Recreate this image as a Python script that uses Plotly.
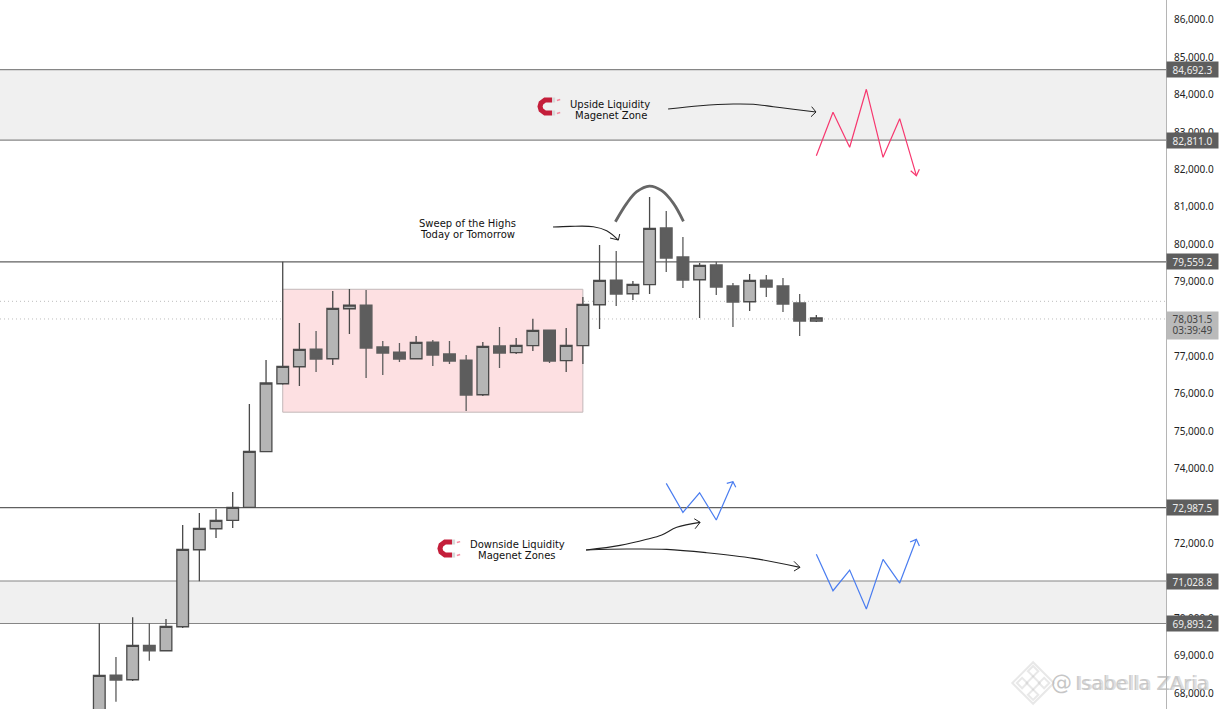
import plotly.graph_objects as go

# candles
opens = [67180, 68516, 68391, 69310, 69166, 69807, 71865, 72426, 72651, 72998, 74484, 76301, 76755, 77228, 76969,
         78305, 78404, 77282, 77148, 76969, 77415, 77095, 76934, 76007, 77309, 77130, 77317, 77736, 76916, 77317,
         78412, 79072, 78706, 78947, 80462, 79687, 79080, 79473, 78912, 78492, 79072, 78912, 78458, 77977]
highs = [69898, 68997, 70059, 69898, 70013, 72525, 72846, 72953, 73407, 75759, 76934, 79559, 77923, 77709, 78778,
         78832, 78805, 77442, 77389, 77576, 77469, 77442, 77068, 77415, 77816, 77522, 78038, 77736, 77790, 78618,
         80008, 79847, 79046, 81290, 80916, 80221, 79527, 79561, 78992, 79233, 79206, 79126, 78698, 78137]
lows = [66913, 67803, 68356, 68899, 69166, 69772, 71020, 72177, 72445, 72998, 74484, 76274, 76240, 76614, 76801,
        77629, 76453, 76533, 76881, 76969, 76774, 76827, 75571, 75972, 76721, 77095, 77175, 76854, 76614, 76827,
        77763, 78377, 78538, 78698, 79286, 78859, 78057, 78671, 77816, 78244, 78618, 78217, 77576, 77950]
closes = [68508, 68383, 69310, 69166, 69818, 71875, 72437, 72651, 72998, 74494, 76320, 76766, 77220, 76961, 78316,
          78404, 77255, 77121, 76961, 77407, 77068, 76908, 75999, 77300, 77121, 77327, 77728, 76908, 77327, 78423,
          79064, 78698, 78957, 80454, 79660, 79072, 79465, 78885, 78484, 79064, 78885, 78431, 77977, 78057]

tick_vals = list(range(68000, 87000, 1000))
zones = [(82811.0, 84692.3), (69893.2, 71028.8)]
single_levels = [79559.2, 72987.5]
level_tags = [84692.3, 82811.0, 79559.2, 72987.5, 71028.8, 69893.2]
dotted_levels = [78503, 78031.5]
last_price = 78031.5
countdown = "03:39:49"

range_box_x = [11, 29]
range_box_y = [75540, 78825]

# drawings
pink_x = [43, 44, 45, 46, 47, 48, 49]
pink_y = [82394, 83554, 82619, 84169, 82351, 83383, 81860]
pink_head_x = [48.66, 49, 49.18]
pink_head_y = [81993, 81860, 82031]

blue1_x = [34, 35, 36, 37, 38]
blue1_y = [73639, 72864, 73388, 72659, 73682]
blue1_head_x = [37.63, 38, 38.17]
blue1_head_y = [73639, 73682, 73532]

blue2_x = [43, 44, 45, 46, 47, 48, 49]
blue2_y = [71742, 70769, 71322, 70280, 71608, 70975, 72143]
blue2_head_x = [48.62, 49, 49.18]
blue2_head_y = [72071, 72143, 71964]

up_arrow_x = [34.11, 36.03, 38.02, 39.22, 40.42, 41.62, 42.98]
up_arrow_y = [83642, 83730, 83776, 83768, 83704, 83634, 83562]
up_head_x = [42.72, 42.98, 42.68]
up_head_y = [83704, 83562, 83436]

sweep_x = [27.21, 28.23, 29.63, 30.43, 31.13]
sweep_y = [80489, 80507, 80497, 80390, 80141]
sweep_head_x = [30.63, 31.13, 31.21]
sweep_head_y = [80195, 80141, 80302]

hump_x = [30.95, 31.63, 32.23, 32.99, 33.73, 34.43, 35.03]
hump_y = [80630, 81122, 81432, 81584, 81459, 81122, 80641]

down1_x = [29.19, 31.23, 32.83, 33.73, 34.63, 36.03]
down1_y = [71857, 71982, 72143, 72258, 72463, 72597]
down1_head_x = [35.68, 36.03, 35.73]
down1_head_y = [72693, 72597, 72426]

down2_x = [29.19, 31.63, 34.03, 36.43, 39.22, 42.02]
down2_y = [71857, 71884, 71875, 71785, 71635, 71394]
down2_head_x = [41.66, 42.02, 41.66]
down2_head_y = [71555, 71394, 71296]

# magnet icon, offsets from an anchor
magnet_anchors = [(26.79, 83709), (20.79, 71897)]
magnet_dx = [0.36, -0.06, -0.30, -0.36, -0.30, -0.06, 0.36]
magnet_dy = [174, 174, 94, 0, -94, -174, -174]

FONT = "Noto Sans"
LABEL_FONT = "DejaVu Sans"
labels = [("Upside Liquidity", 30.6, 83776), ("Magenet Zone", 30.66, 83482),
          ("Sweep of the Highs", 22.08, 80590), ("Today or Tomorrow", 22.08, 80300),
          ("Downside Liquidity", 25.07, 72005), ("Magenet Zones", 25.07, 71720)]

fig = go.Figure()

fig.add_trace(go.Candlestick(
    x=list(range(len(opens))), open=opens, high=highs, low=lows, close=closes,
    increasing=dict(line=dict(color="#4a4a4a", width=1.3), fillcolor="#b5b5b5"),
    decreasing=dict(line=dict(color="#5d5d5d", width=1.3), fillcolor="#5d5d5d"),
    whiskerwidth=0, hoverinfo="skip"))


def add_path(xs, ys, color, width, shape="linear"):
    fig.add_trace(go.Scatter(x=xs, y=ys, mode="lines", hoverinfo="skip",
                             line=dict(color=color, width=width, shape=shape)))


add_path(pink_x, pink_y, "#f7386f", 1.2)
add_path(pink_head_x, pink_head_y, "#f7386f", 1.2)
add_path(blue1_x, blue1_y, "#4a7df0", 1.2)
add_path(blue1_head_x, blue1_head_y, "#4a7df0", 1.2)
add_path(blue2_x, blue2_y, "#4a7df0", 1.2)
add_path(blue2_head_x, blue2_head_y, "#4a7df0", 1.2)
for xs, ys, hx, hy in [(up_arrow_x, up_arrow_y, up_head_x, up_head_y),
                       (sweep_x, sweep_y, sweep_head_x, sweep_head_y),
                       (down1_x, down1_y, down1_head_x, down1_head_y),
                       (down2_x, down2_y, down2_head_x, down2_head_y)]:
    add_path(xs, ys, "#222222", 1.1, "spline")
    add_path(hx, hy, "#222222", 1.0)
add_path(hump_x, hump_y, "#666666", 2.8, "spline")

for ax, ay in magnet_anchors:
    add_path([ax + d for d in magnet_dx], [ay + d for d in magnet_dy], "#c41e3a", 5)
    add_path([ax + 0.36, ax + 0.55], [ay + 174, ay + 174], "#d8d8d8", 5)
    add_path([ax + 0.36, ax + 0.55], [ay - 174, ay - 174], "#d8d8d8", 5)
    add_path([ax + 0.65, ax + 0.85], [ay + 160, ay + 185], "#f58aa0", 1.5)
    add_path([ax + 0.65, ax + 0.85], [ay - 185, ay - 160], "#f58aa0", 1.5)

# watermark logo
fig.add_trace(go.Scatter(x=[56.0, 55.34, 56.66, 56.0, 56.0, 56.0], y=[68303, 68303, 68303, 68620, 67990, 68303],
                         mode="markers", hoverinfo="skip",
                         marker=dict(symbol="diamond-open", color="rgba(190,190,190,0.5)",
                                     size=[10, 8, 8, 8, 8, 32], line=dict(width=2))))

# zones and level lines
for lo, hi in zones:
    fig.add_shape(type="rect", xref="paper", x0=0, x1=1, y0=lo, y1=hi, layer="below",
                  fillcolor="#f0f0f0", line_width=0)
    for lv in (lo, hi):
        fig.add_shape(type="line", xref="paper", x0=0, x1=1, y0=lv, y1=lv, layer="below",
                      line=dict(color="#868686", width=1.2))
for lv in single_levels:
    fig.add_shape(type="line", xref="paper", x0=0, x1=1, y0=lv, y1=lv, layer="below",
                  line=dict(color="#606060", width=1.2))
fig.add_shape(type="rect", x0=range_box_x[0], x1=range_box_x[1], y0=range_box_y[0], y1=range_box_y[1],
              layer="below", fillcolor="#fde0e2", line=dict(color="#c2b8b9", width=1))
for lv in dotted_levels:
    fig.add_shape(type="line", xref="paper", x0=0, x1=1, y0=lv, y1=lv, layer="below",
                  line=dict(color="#bdbdbd", width=1, dash="1px,3px"))

for txt, x, y in labels:
    fig.add_annotation(text=txt, x=x, y=y, showarrow=False, xanchor="center", yanchor="middle",
                       font=dict(family=LABEL_FONT, size=10, color="#111111"))

for lv in level_tags:
    fig.add_annotation(text=f"{lv:,.1f}", xref="paper", x=1, y=lv, showarrow=False, xanchor="left",
                       yanchor="middle", width=51, height=15, bgcolor="#5e5e5e", borderpad=0, align="center",
                       font=dict(family=FONT, size=10, color="#eeeeee"))
fig.add_annotation(text=" ", xref="paper", x=1, y=77870, showarrow=False, xanchor="left", yanchor="middle",
                   width=51, height=27, bgcolor="#bababa", borderpad=0, font=dict(size=10))
fig.add_annotation(text=f"{last_price:,.1f}", xref="paper", x=1, y=78040, showarrow=False, xanchor="left",
                   yanchor="middle", width=51, height=12, borderpad=0, align="center",
                   font=dict(family=FONT, size=10, color="#444444"))
fig.add_annotation(text=countdown, xref="paper", x=1, y=77745, showarrow=False, xanchor="left",
                   yanchor="middle", width=51, height=12, borderpad=0, align="center",
                   font=dict(family=FONT, size=10, color="#444444"))

# watermark text, doubled like the source
fig.add_annotation(text="@", x=56.98, y=68303, showarrow=False, xanchor="left", yanchor="middle",
                   font=dict(family="DejaVu Sans", size=21, color="rgba(160,160,160,0.6)"))
for dx, col in [(0, "rgba(160,160,160,0.55)"), (2, "rgba(195,195,195,0.55)")]:
    fig.add_annotation(text="Isabella ZAria", x=58.4 + dx * 0.06, y=68303, showarrow=False, xanchor="left",
                       yanchor="middle", font=dict(family="DejaVu Sans", size=19.5, color=col))

fig.update_layout(
    width=1220, height=709, margin=dict(l=0, r=54, t=0, b=0),
    paper_bgcolor="white", plot_bgcolor="white", showlegend=False, hovermode=False,
    boxgap=0.3, boxgroupgap=0,
    xaxis=dict(range=[-5.955, 63.97], visible=False, rangeslider=dict(visible=False)),
    yaxis=dict(range=[67609, 86555], side="right", showgrid=False, zeroline=False, showline=True,
               linecolor="#b5b5b5", linewidth=1, tickvals=tick_vals, tickformat=",.1f", ticks="", ticklen=0,
               ticklabelstandoff=5, ticklabelshift=-1, tickfont=dict(family=FONT, size=10, color="#222222")))

fig.write_html("out.html", config={"displayModeBar": False},
               post_script="document.body.style.margin='0';document.body.style.overflow='hidden';")
